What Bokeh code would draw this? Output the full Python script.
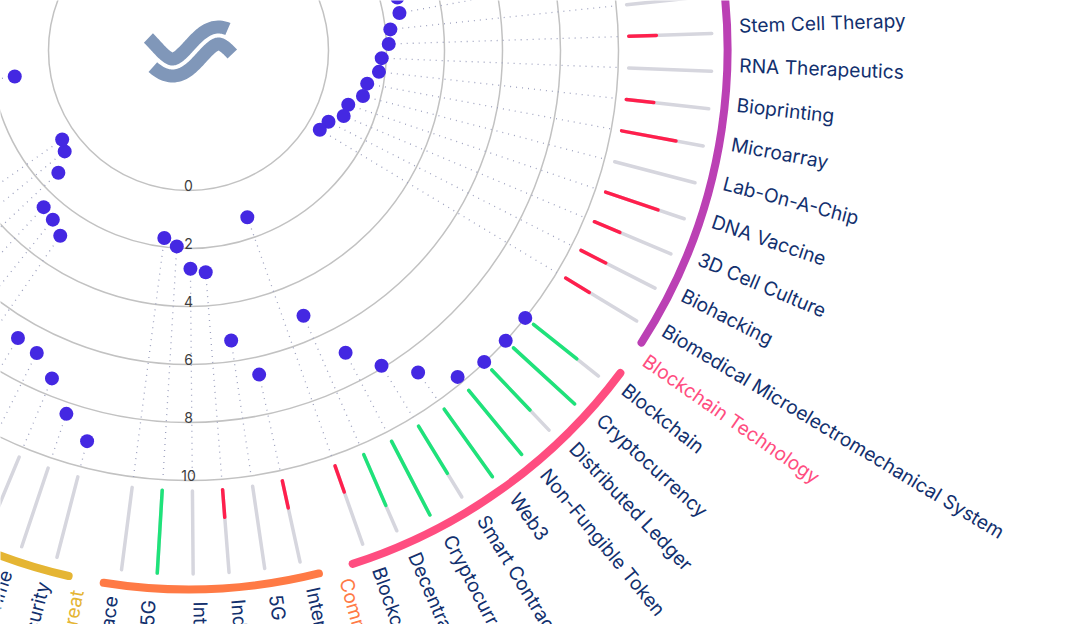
import math
import numpy as np
from bokeh.plotting import figure
from bokeh.models import Range1d, ColumnDataSource
from bokeh.core.properties import value
from bokeh.embed import file_html
from bokeh.resources import INLINE

# ---------------- data ----------------
group_names = ["", "Blockchain Technology", "Communication Technology", "Cyber Threat", ""]
group_colors = ["#bb40b4", "#ff4d80", "#ff7a45", "#e5b533", "#8a8aa8"]

bio_items = ["", "", "", "Stem Cell Therapy", "RNA Therapeutics", "Bioprinting", "Microarray",
             "Lab-On-A-Chip", "DNA Vaccine", "3D Cell Culture", "Biohacking",
             "Biomedical Microelectromechanical System"]
bio_scores = [2.6, 2.56, 2.17, 2.08, 1.84, 1.78, 1.44, 1.39, 0.99, 0.98, 0.59, 0.46]
bio_trend = [0, 0, 0, -1, 0, -1, -2, 0, -2, -1, -1, -1]

chain_items = ["Blockchain", "Cryptocurrency", "Distributed Ledger", "Non-Fungible Token", "Web3",
               "Smart Contract", "Cryptocurrency Wallet", "Decentralized Finance",
               "Blockchain Interoperability"]
chain_scores = [10.0, 10.0, 9.98, 9.76, 8.81, 7.92, 6.92, 5.14, 1.27]
chain_trend = [2, 3, 2, 3, 3, 2, 3, 2, -1]

comm_items = ["Internet of Things", "5G", "Industrial Internet", "Intelligent Connectivity",
              "Private 5G", "Cyberspace"]
comm_scores = [6.61, 5.28, 2.84, 2.70, 1.94, 1.69]
comm_trend = [-1, 0, -1, 0, 3, 0]

threat_items = ["Cybersecurity", "Cybercrime"] + [""] * 14
threat_scores = [9.09, 8.39, 7.42, 6.84, 6.70, 2.94, 2.65, 2.53, 1.33, 0.68, 0.50] + [float("nan")] * 5
threat_trend = [0] * 16

other_items = [""]
other_scores = [1.23]
other_trend = [0]

score_ticks = [0, 2, 4, 6, 8, 10]
trend_max = 3

all_items = [bio_items, chain_items, comm_items, threat_items, other_items]
all_scores = [bio_scores, chain_scores, comm_scores, threat_scores, other_scores]
all_trends = [bio_trend, chain_trend, comm_trend, threat_trend, other_trend]

# ---------------- layout ----------------
R0, PX_UNIT = 140.0, 29.0
R_BAR_IN, R_BAR_OUT = 440.5, 523.5
R_ARC, R_LABEL = 539.0, 551.0
GROUP_START = [-14.21, 38.45, 77.7, 104.55, 171.5]   # degrees, clockwise on screen
GROUP_STEP = [4.12, 4.015, 3.93, 4.03, 4.0]
LABEL_LIFT = 7.0
NAVY = "#12306e"
FONT = "Inter"
LABEL_SIZE = "19.2px"


def rad(v):
    return R0 + PX_UNIT * v


def pol(r, deg):
    t = math.radians(deg)
    return r * math.cos(t), -r * math.sin(t)


def label_anchor(deg):
    """anchor on the radial line, lifted towards the glyph tops; returns x, y, angle, align"""
    flip = 90 < deg % 360 < 270
    phi = -math.radians(deg) + (math.pi if flip else 0.0)
    x, y = pol(R_LABEL, deg)
    x += -math.sin(phi) * LABEL_LIFT
    y += math.cos(phi) * LABEL_LIFT
    return x, y, phi, ("right" if flip else "left")


rows = []
for g in range(len(all_items)):
    for k, (name, sc, tr) in enumerate(zip(all_items[g], all_scores[g], all_trends[g])):
        rows.append(dict(g=g, name=name, score=sc, trend=tr,
                         deg=GROUP_START[g] + GROUP_STEP[g] * k))

p = figure(width=1080, height=624, x_range=Range1d(-188, 892), y_range=Range1d(-574, 50),
           output_backend="svg", toolbar_location=None, min_border=0,
           x_axis_type=None, y_axis_type=None, background_fill_color="white")
p.outline_line_color = None
p.grid.visible = False

# grid circles
p.circle(x=[0] * len(score_ticks), y=[0] * len(score_ticks), radius=[rad(v) for v in score_ticks],
         fill_color=None, line_color="#c2c2c2", line_width=1.5)

# dotted spokes
sp = dict(x0=[], y0=[], x1=[], y1=[])
for r in rows:
    if not math.isnan(r["score"]) and r["score"] < 10:
        x0, y0 = pol(rad(r["score"]), r["deg"])
        x1, y1 = pol(rad(10), r["deg"])
        sp["x0"].append(x0); sp["y0"].append(y0); sp["x1"].append(x1); sp["y1"].append(y1)
p.segment(x0="x0", y0="y0", x1="x1", y1="y1", source=ColumnDataSource(sp),
          line_color="#9ea2bf", line_width=1.3, line_dash="1 5")

# tick labels
p.text(x=[0] * len(score_ticks), y=[-(rad(v) - 5) for v in score_ticks],
       text=[str(v) for v in score_ticks], text_align="center", text_baseline="middle",
       text_font=value(FONT), text_font_size="14px", text_color="#3d3d3d")


# logo: two ribbons either side of a wavy gap line (offsets from the chart centre)
def ribbon(x_from, x_to, d_in, d_out):
    gx = np.linspace(x_from, x_to, 80)
    gy = 1 + 16 * np.cos(np.pi * (gx + 16) / 46)          # screen-down offsets
    slope = -16 * np.pi / 46 * np.sin(np.pi * (gx + 16) / 46)
    n = np.hypot(1, slope)
    nx, ny = slope / n, -1 / n                              # normal pointing up on screen
    ix, iy = gx + d_in * nx, gy + d_in * ny
    ox, oy = gx + d_out * nx, gy + d_out * ny
    px = np.concatenate([ix, ox[::-1]])
    py = np.concatenate([iy, oy[::-1]])
    return px, -py


ux, uy = ribbon(-46, 36, 2.0, 15.0)
bx, by = ribbon(-30, 50, -2.0, -15.0)
p.patch(ux, uy, fill_color="#8097b9", line_color=None)
p.patch(bx, by, fill_color="#8097b9", line_color=None)

# bars
bg = dict(x0=[], y0=[], x1=[], y1=[])
fg = dict(x0=[], y0=[], x1=[], y1=[], c=[])
for r in rows:
    x0, y0 = pol(R_BAR_IN, r["deg"])
    x1, y1 = pol(R_BAR_OUT, r["deg"])
    bg["x0"].append(x0); bg["y0"].append(y0); bg["x1"].append(x1); bg["y1"].append(y1)
    if r["trend"] != 0:
        re = R_BAR_IN + (R_BAR_OUT - R_BAR_IN) * abs(r["trend"]) / trend_max
        x2, y2 = pol(re, r["deg"])
        fg["x0"].append(x0); fg["y0"].append(y0); fg["x1"].append(x2); fg["y1"].append(y2)
        fg["c"].append("#1ee37a" if r["trend"] > 0 else "#ff1f4c")
p.segment(x0="x0", y0="y0", x1="x1", y1="y1", source=ColumnDataSource(bg),
          line_color="#d6d6de", line_width=3.5, line_cap="round")
p.segment(x0="x0", y0="y0", x1="x1", y1="y1", source=ColumnDataSource(fg),
          line_color="c", line_width=3.5, line_cap="round")

# category arcs and labels
prev_last = None
for g in range(len(all_items)):
    degs = [r["deg"] for r in rows if r["g"] == g]
    a1, a2 = min(degs) - 1.7, max(degs) + 1.7
    p.arc(x=0, y=0, radius=R_ARC, start_angle=-math.radians(a2), end_angle=-math.radians(a1),
          direction="anticlock", line_color=group_colors[g], line_width=8, line_cap="round")
    if group_names[g] and prev_last is not None:
        ld = (prev_last + min(degs)) / 2
        x, y, phi, align = label_anchor(ld)
        p.text(x=[x], y=[y], text=[group_names[g]], angle=[phi], text_align=align,
               text_baseline="middle", text_font=value(FONT), text_font_size=LABEL_SIZE,
               text_color=group_colors[g])
    prev_last = max(degs)

# dots
dx, dy = [], []
for r in rows:
    if not math.isnan(r["score"]):
        x, y = pol(rad(r["score"]), r["deg"])
        dx.append(x); dy.append(y)
p.scatter(dx, dy, size=14, fill_color="#4428e2", line_color=None)

# item labels
for align_side in ("left", "right"):
    xs, ys, ang, tx = [], [], [], []
    for r in rows:
        if not r["name"]:
            continue
        x, y, phi, align = label_anchor(r["deg"])
        if align != align_side:
            continue
        xs.append(x); ys.append(y); ang.append(phi); tx.append(r["name"])
    p.text(x=xs, y=ys, text=tx, angle=ang, text_align=align_side,
           text_baseline="middle", text_font=value(FONT), text_font_size=LABEL_SIZE,
           text_color=NAVY)

open("out.html", "w").write(file_html(p, INLINE))
